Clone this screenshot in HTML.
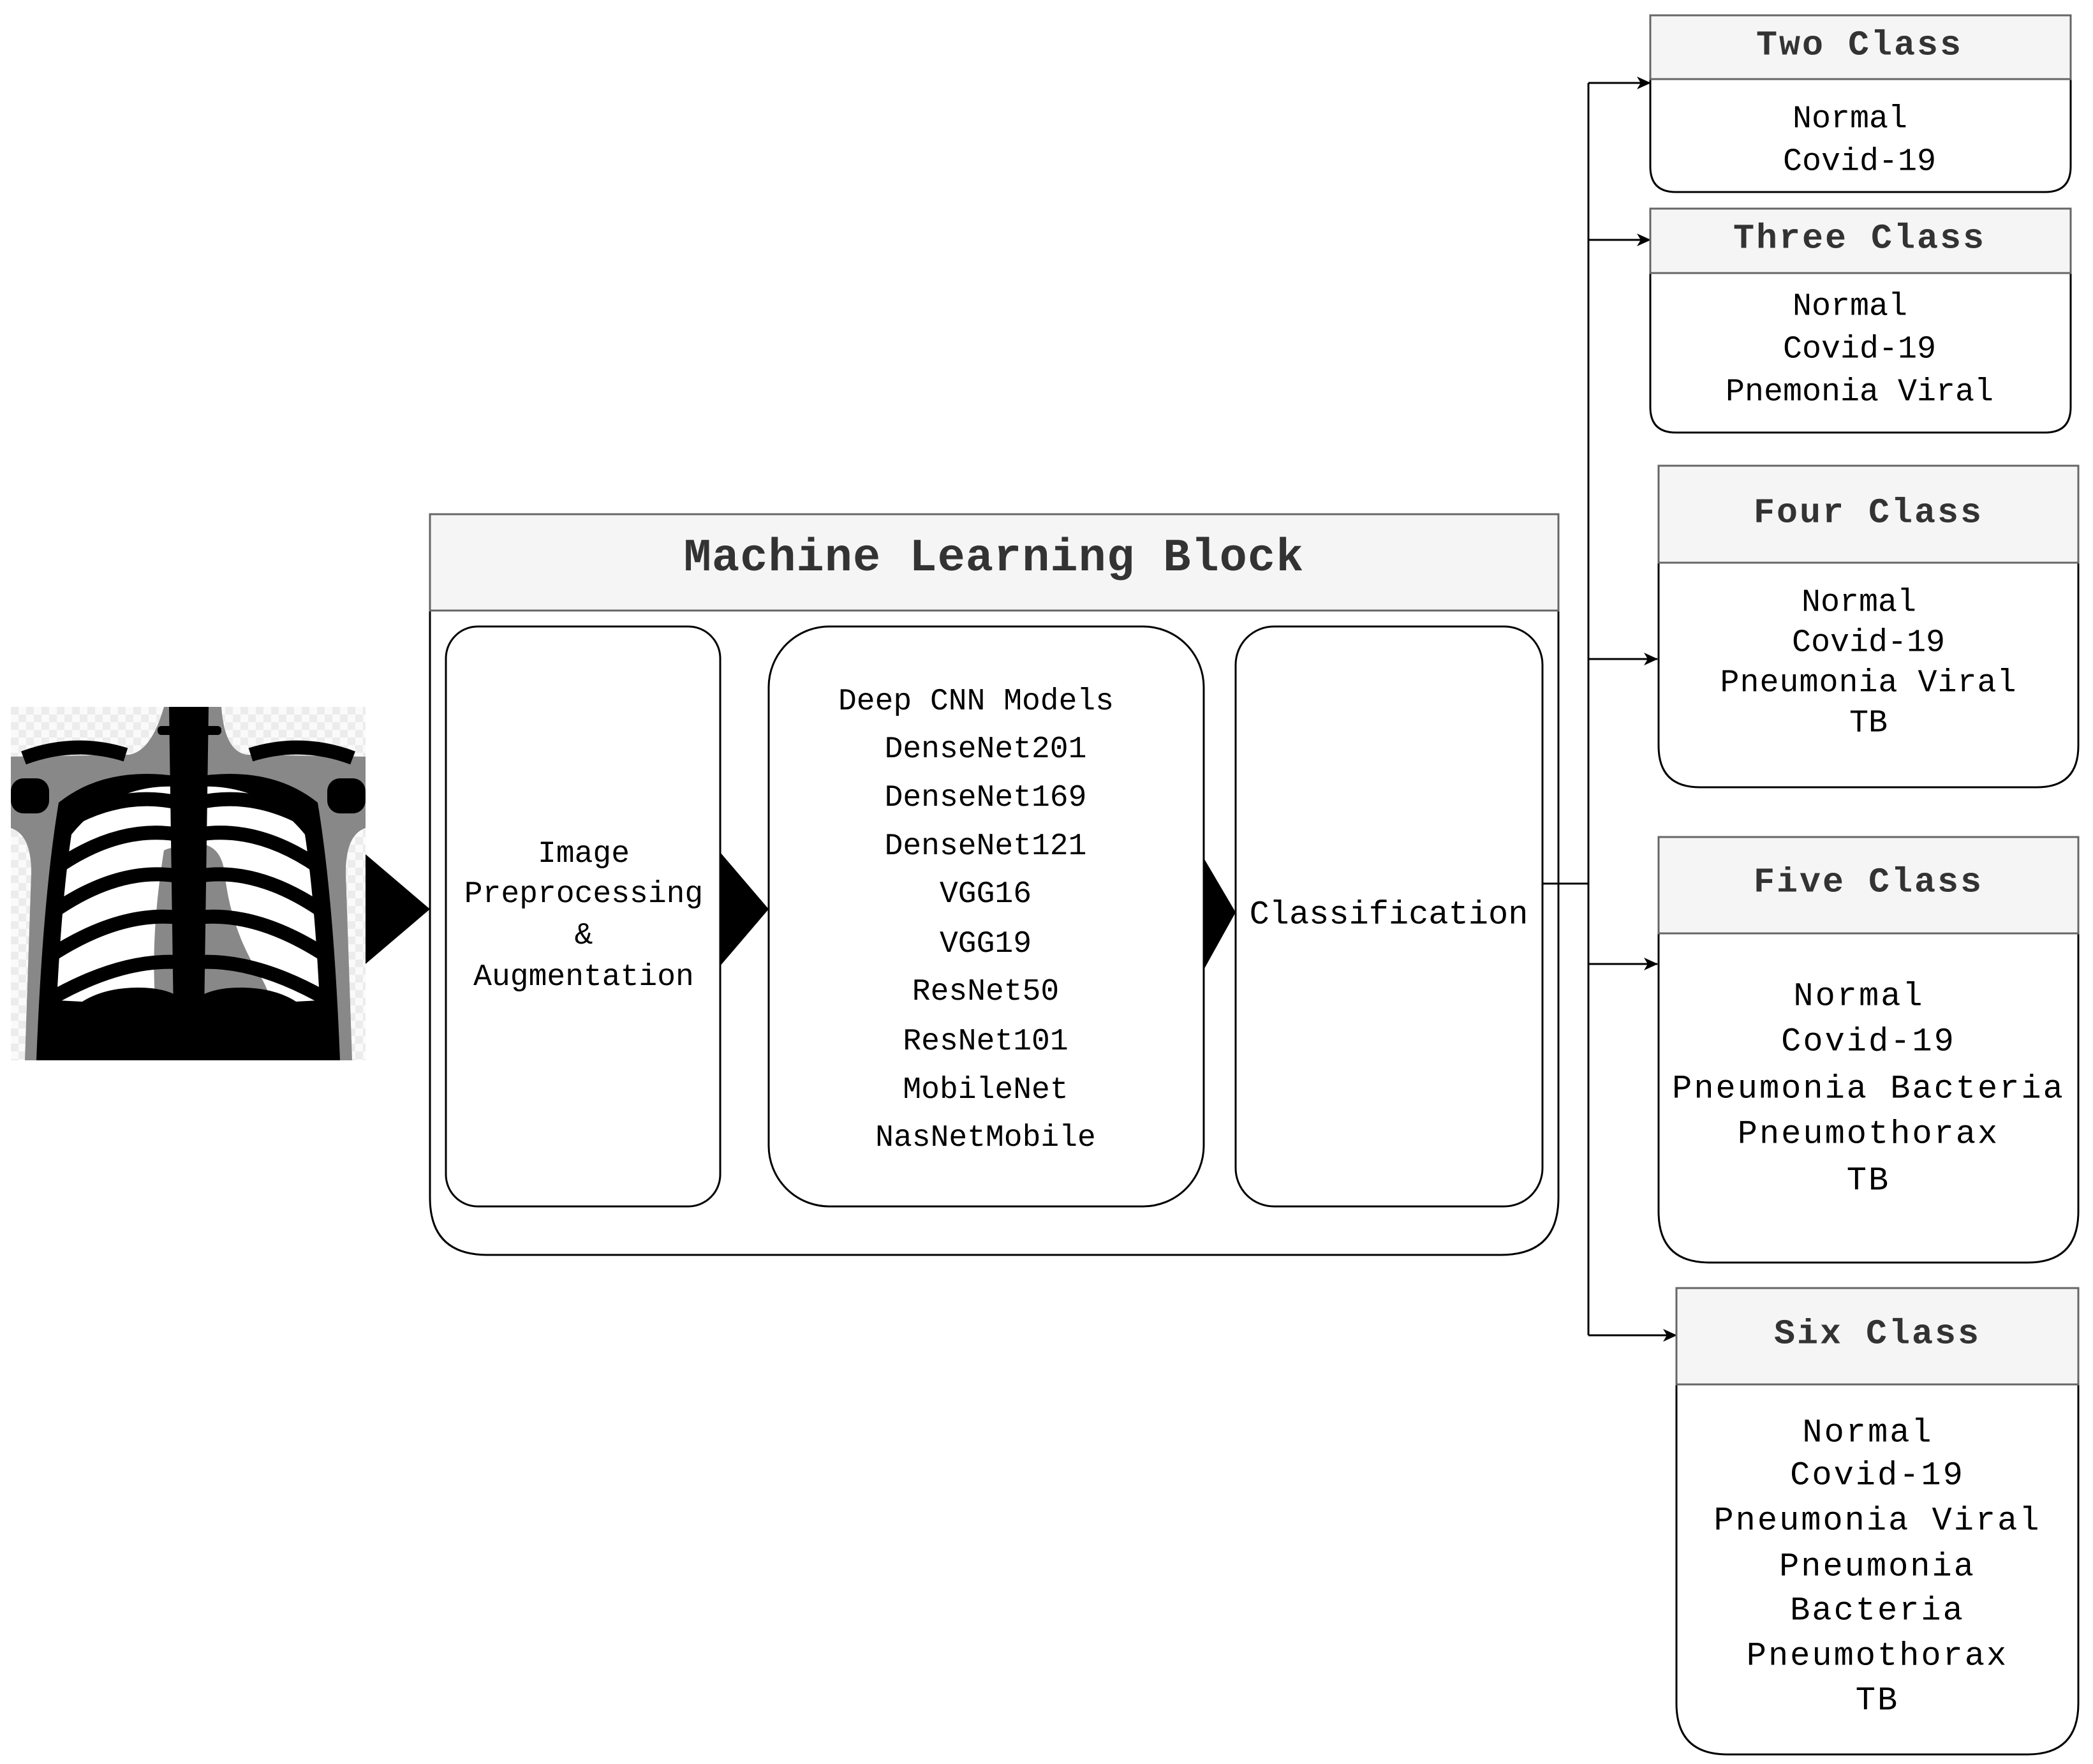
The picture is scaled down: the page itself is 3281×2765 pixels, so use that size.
<!DOCTYPE html>
<html><head><meta charset="utf-8"><style>
html,body{margin:0;padding:0;background:#fff;}
svg{display:block;}
text{font-family:"Liberation Mono",monospace;fill:#000;}
.h{fill:#333;font-size:55px;font-weight:bold;letter-spacing:3px;}
</style></head><body>
<svg width="3281" height="2765" viewBox="0 0 3281 2765" xmlns="http://www.w3.org/2000/svg">
<defs>
<pattern id="chk" width="24" height="24" patternUnits="userSpaceOnUse"><rect width="24" height="24" fill="#fafafa"/><rect width="12" height="12" fill="#ececec"/><rect x="12" y="12" width="12" height="12" fill="#ececec"/></pattern>
<marker id="ar" markerWidth="22" markerHeight="20" refX="21" refY="10" orient="auto" markerUnits="userSpaceOnUse"><path d="M0,0 L22,10 L0,20 L6,10 Z" fill="#000"/></marker>
</defs>

<!-- X-ray -->
<g transform="translate(17,1108)">
<rect width="556" height="554" fill="url(#chk)"/>
<path d="M240,0 L330,0 Q335,70 370,75 L556,78 L556,190 Q525,200 525,260 L535,554 L22,554 L32,260 Q32,200 0,190 L0,78 L185,75 Q220,70 240,0 Z" fill="#888"/>
<rect x="0" y="112" width="60" height="55" fill="#000" rx="20"/>
<rect x="496" y="112" width="60" height="55" fill="#000" rx="20"/>
<path d="M75,150 Q150,90 270,110 L290,554 L40,554 Q50,300 75,150 Z" fill="#000"/>
<path d="M481,150 Q406,90 286,110 L266,554 L516,554 Q506,300 481,150 Z" fill="#000"/>
<path d="M95,200 Q160,120 262,125 L262,470 L72,460 Q80,300 95,200 Z" fill="#fff"/>
<path d="M461,200 Q396,120 294,125 L294,470 L484,460 Q476,300 461,200 Z" fill="#fff"/>
<path d="M240,225 Q260,215 265,230 L265,500 L230,500 Q215,380 240,225 Z" fill="#888"/>
<path d="M300,215 Q330,220 335,260 Q345,350 390,420 Q420,470 405,510 L300,510 Z" fill="#888"/>
<g fill="none" stroke="#000" stroke-width="22">
<path d="M80,185 Q170,130 262,150"/><path d="M476,185 Q386,130 294,150"/>
<path d="M75,250 Q170,185 262,200"/><path d="M481,250 Q386,185 294,200"/>
<path d="M68,320 Q170,250 262,265"/><path d="M488,320 Q386,250 294,265"/>
<path d="M62,390 Q170,320 262,330"/><path d="M494,390 Q386,320 294,330"/>
<path d="M58,460 Q170,395 262,400"/><path d="M498,460 Q386,395 294,400"/>
<path d="M20,80 Q100,50 180,75"/><path d="M536,80 Q456,50 376,75"/>
</g>
<path d="M50,554 Q80,440 200,440 Q260,440 278,470 Q300,440 360,440 Q480,440 506,554 Z" fill="#000"/>
<path d="M248,0 L310,0 L302,554 L256,554 Z" fill="#000"/>
<rect x="230" y="30" width="100" height="14" fill="#000" rx="6"/>
</g>

<polygon points="573,1339 674,1425 573,1511" fill="#000"/>

<!-- ML block -->
<path d="M674,806 H2443 V1877 Q2443,1967 2353,1967 H764 Q674,1967 674,1877 Z" fill="#fff" stroke="#000" stroke-width="3"/>
<rect x="674" y="806" width="1769" height="151" fill="#f5f5f5" stroke="#666" stroke-width="3"/>
<text x="1558" y="875" text-anchor="middle" dominant-baseline="central" style="fill:#333;font-size:72px;font-weight:bold;letter-spacing:1px">Machine Learning Block</text>

<rect x="699" y="982" width="430" height="909" rx="50" fill="#fff" stroke="#000" stroke-width="3"/>
<rect x="1205" y="982" width="682" height="909" rx="95" fill="#fff" stroke="#000" stroke-width="3"/>
<rect x="1937" y="982" width="481" height="909" rx="60" fill="#fff" stroke="#000" stroke-width="3"/>
<polygon points="1129,1336 1205,1425 1129,1514" fill="#000"/>
<polygon points="1887,1345 1937,1430 1887,1520" fill="#000"/>

<g font-size="48" text-anchor="middle" dominant-baseline="central">
<text x="915" y="1339">Image</text>
<text x="915" y="1402">Preprocessing</text>
<text x="915" y="1467">&amp;</text>
<text x="915" y="1532">Augmentation</text>
<text x="1530" y="1100">Deep CNN Models</text>
<text x="1545" y="1175">DenseNet201</text>
<text x="1545" y="1251">DenseNet169</text>
<text x="1545" y="1327">DenseNet121</text>
<text x="1545" y="1402">VGG16</text>
<text x="1545" y="1480">VGG19</text>
<text x="1545" y="1555">ResNet50</text>
<text x="1545" y="1633">ResNet101</text>
<text x="1545" y="1709">MobileNet</text>
<text x="1545" y="1784">NasNetMobile</text>
<text x="2177" y="1434" font-size="52">Classification</text>
</g>

<!-- connectors -->
<g fill="none" stroke="#000" stroke-width="3">
<path d="M2418,1385 H2490"/>
<path d="M2490,130 V2093"/>
<path d="M2490,130 H2587" marker-end="url(#ar)"/>
<path d="M2490,376 H2587" marker-end="url(#ar)"/>
<path d="M2490,1033 H2598" marker-end="url(#ar)"/>
<path d="M2490,1511 H2598" marker-end="url(#ar)"/>
<path d="M2490,2093 H2628" marker-end="url(#ar)"/>
</g>

<!-- class boxes -->
<g stroke-width="3">
<path d="M2587,124 H3246 V261 Q3246,301 3206,301 H2627 Q2587,301 2587,261 Z" fill="#fff" stroke="#000"/>
<rect x="2587" y="24" width="659" height="100" fill="#f5f5f5" stroke="#666"/>
<path d="M2587,428 H3246 V638 Q3246,678 3206,678 H2627 Q2587,678 2587,638 Z" fill="#fff" stroke="#000"/>
<rect x="2587" y="327" width="659" height="101" fill="#f5f5f5" stroke="#666"/>
<path d="M2600,882 H3258 V1169 Q3258,1234 3193,1234 H2665 Q2600,1234 2600,1169 Z" fill="#fff" stroke="#000"/>
<rect x="2600" y="730" width="658" height="152" fill="#f5f5f5" stroke="#666"/>
<path d="M2600,1463 H3258 V1899 Q3258,1979 3178,1979 H2680 Q2600,1979 2600,1899 Z" fill="#fff" stroke="#000"/>
<rect x="2600" y="1312" width="658" height="151" fill="#f5f5f5" stroke="#666"/>
<path d="M2628,2170 H3258 V2670 Q3258,2750 3178,2750 H2708 Q2628,2750 2628,2670 Z" fill="#fff" stroke="#000"/>
<rect x="2628" y="2019" width="630" height="151" fill="#f5f5f5" stroke="#666"/>
</g>

<g text-anchor="middle" dominant-baseline="central">
<text class="h" x="2915" y="71">Two Class</text>
<text class="h" x="2915" y="374">Three Class</text>
<text class="h" x="2929" y="804">Four Class</text>
<text class="h" x="2929" y="1383">Five Class</text>
<text class="h" x="2943" y="2091">Six Class</text>
</g>
<g text-anchor="middle" dominant-baseline="central" font-size="50">
<text x="2900" y="187">Normal</text>
<text x="2915" y="254">Covid-19</text>
<text x="2900" y="481">Normal</text>
<text x="2915" y="548">Covid-19</text>
<text x="2915" y="615">Pnemonia Viral</text>
<text x="2914" y="945">Normal</text>
<text x="2929" y="1008">Covid-19</text>
<text x="2929" y="1071" letter-spacing="1">Pneumonia Viral</text>
<text x="2929" y="1134">TB</text>
</g>
<g text-anchor="middle" dominant-baseline="central" font-size="52" letter-spacing="3">
<text x="2914" y="1562">Normal</text>
<text x="2929" y="1633">Covid-19</text>
<text x="2929" y="1707">Pneumonia Bacteria</text>
<text x="2929" y="1778">Pneumothorax</text>
<text x="2929" y="1851">TB</text>
<text x="2928" y="2246">Normal</text>
<text x="2943" y="2313">Covid-19</text>
<text x="2943" y="2384">Pneumonia Viral</text>
<text x="2943" y="2456">Pneumonia</text>
<text x="2943" y="2525">Bacteria</text>
<text x="2943" y="2596">Pneumothorax</text>
<text x="2943" y="2666">TB</text>
</g>
</svg>
</body></html>
